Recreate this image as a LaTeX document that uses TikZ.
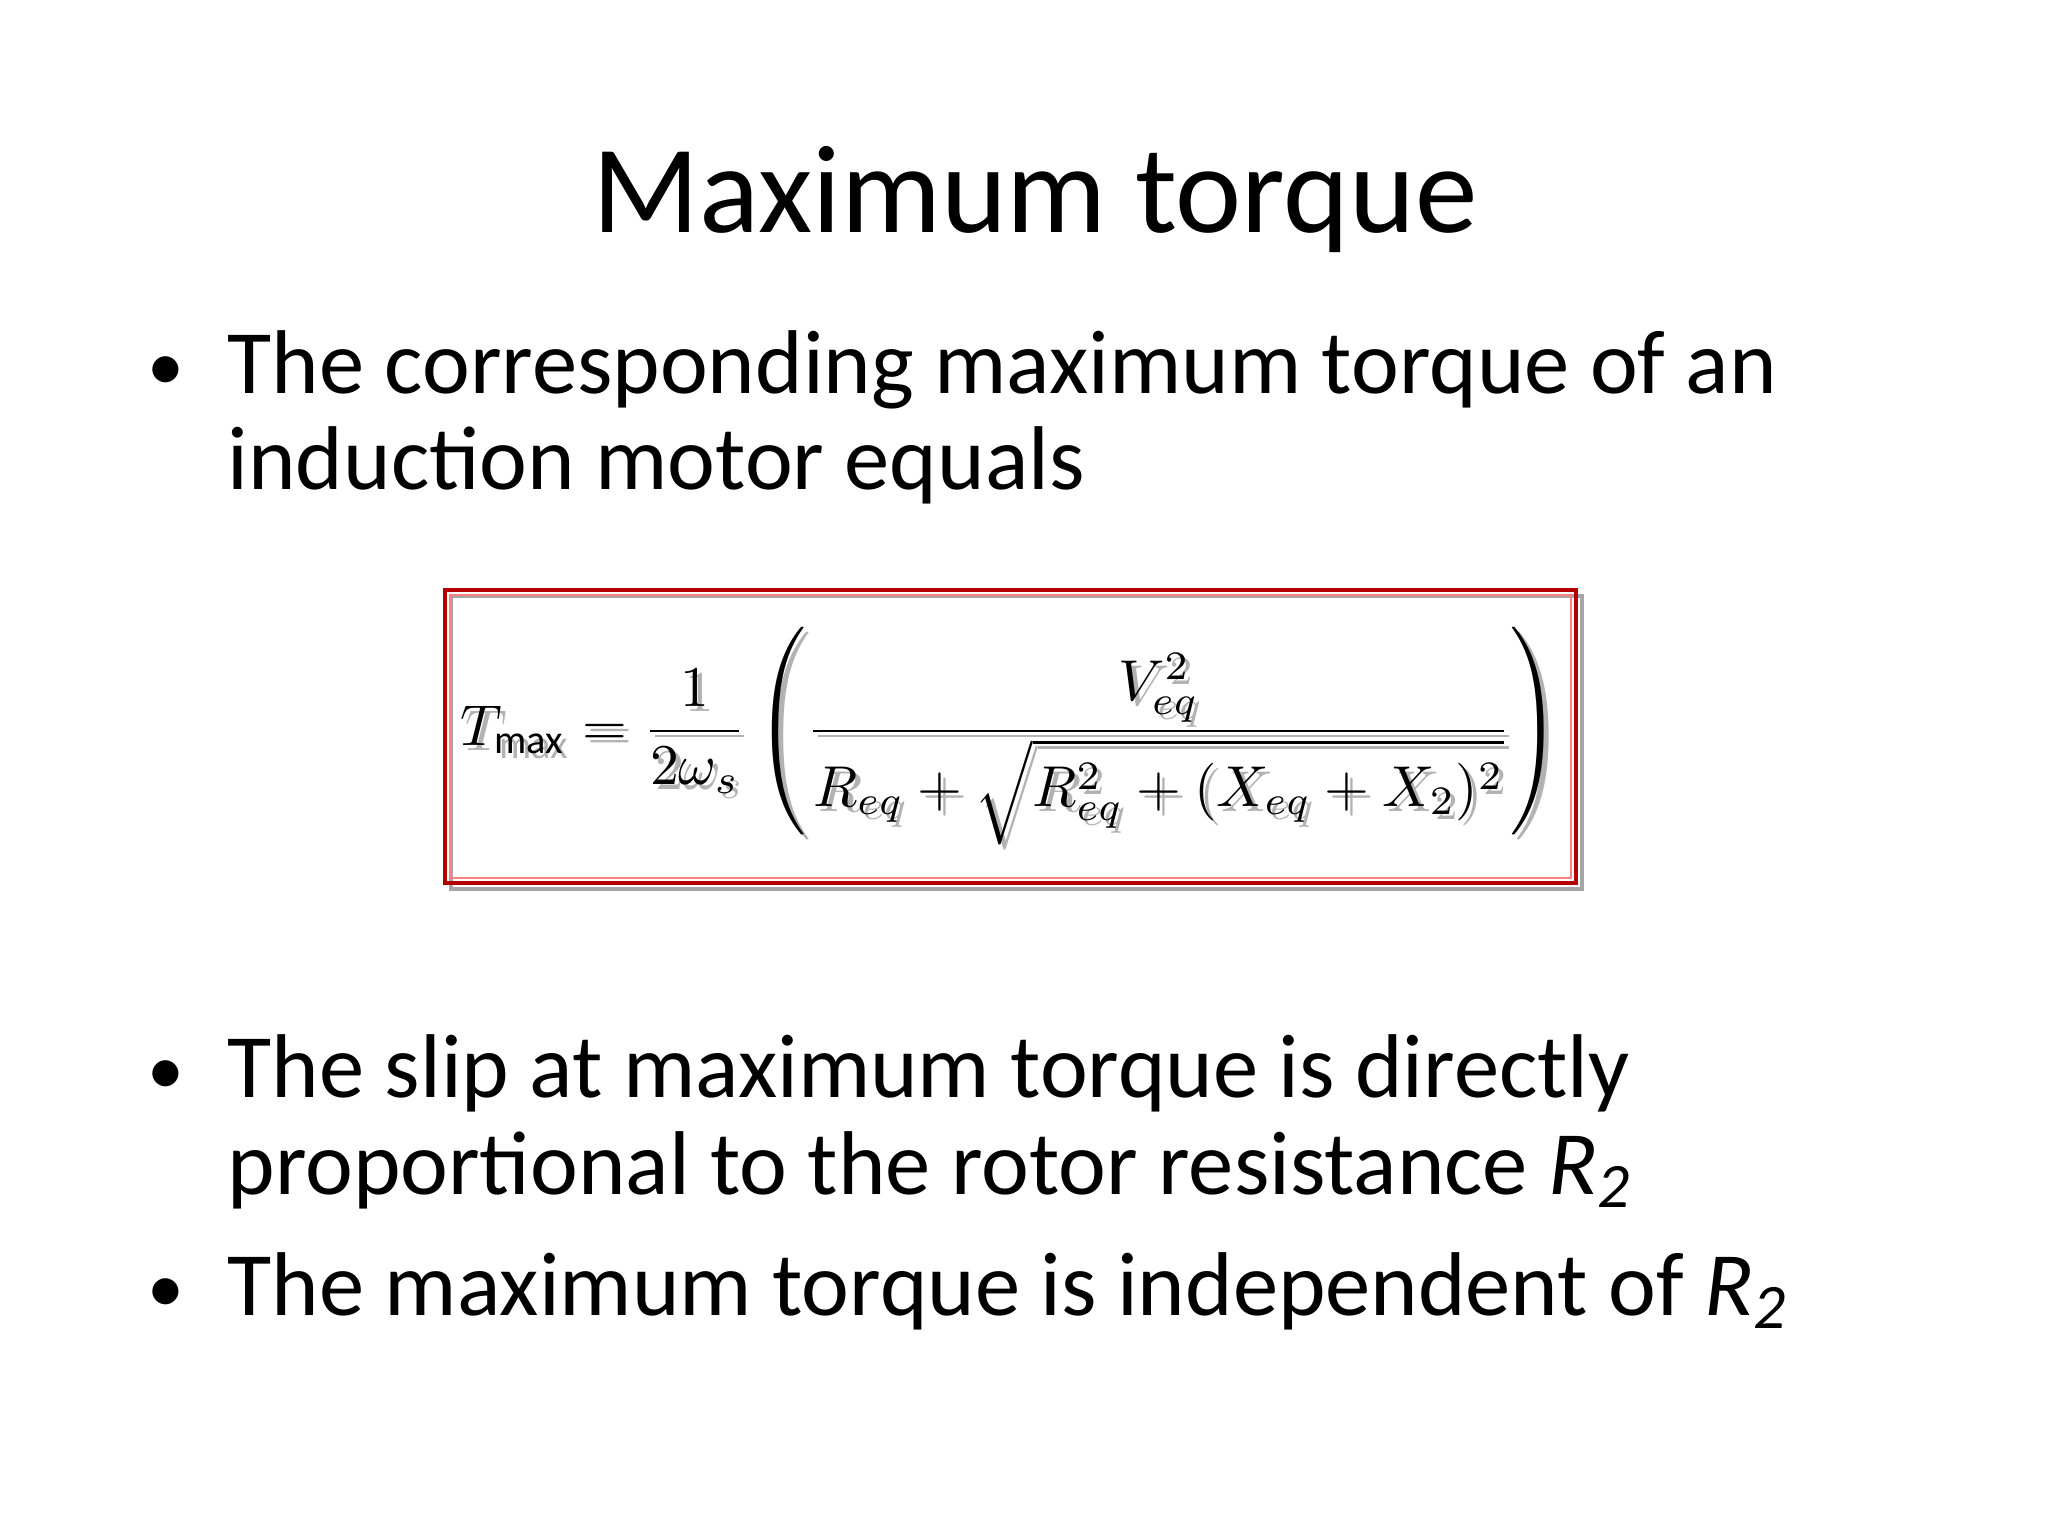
\documentclass[tikz,border=0pt]{standalone}
\usepackage{fontspec}
\setmainfont{Carlito}
\usepackage{amsmath}
\begin{document}
\begin{tikzpicture}[x=0.01cm,y=-0.01cm,
  body/.style={anchor=base west,inner sep=0pt,font=\fontsize{25.75}{30}\selectfont},
  dot/.style={anchor=base,inner sep=0pt,font=\fontsize{21}{30}\selectfont}]
\useasboundingbox[fill=white] (0,0) rectangle (2048,1536);
\node[anchor=base,inner sep=0pt,font=\fontsize{35.6}{44}\selectfont] (title) at (1035,232) {Maximum torque};
\node[dot] (b1) at (166,390) {•};
\node[body] (t1) at (227,393) {The corresponding maximum torque of an};
\node[body] (t1b) at (227,489) {induction motor equals};
\draw[gray!70,line width=1.2pt] (451,596) rectangle (1582,889);
\draw[red!70!black,line width=1pt] (445,590) rectangle (1576,883);
\draw[red!50,line width=0.6pt] (450,595) rectangle (1571,878);
\def\eq{\resizebox{11cm}{!}{$\displaystyle T_{\mathrm{max}}=\frac{1}{2\omega_s}\left(\frac{V_{eq}^2}{R_{eq}+\sqrt{R_{eq}^2+(X_{eq}+X_2)^2}}\right)$}}
\node[inner sep=0pt,text=gray!60] (eqs) at (1016,741) {\eq};
\node[inner sep=0pt] (eq) at (1011,736) {\eq};
\node[dot] (b2) at (166,1094) {•};
\node[body] (t2) at (227,1097) {The slip at maximum torque is directly};
\node[body] (t2b) at (227,1194) {proportional to the rotor resistance \textit{R}\textsubscript{\textit{2}}};
\node[dot] (b3) at (166,1312) {•};
\node[body] (t3) at (227,1315) {The maximum torque is independent of \textit{R}\textsubscript{\textit{2}}};
\end{tikzpicture}
\end{document}
